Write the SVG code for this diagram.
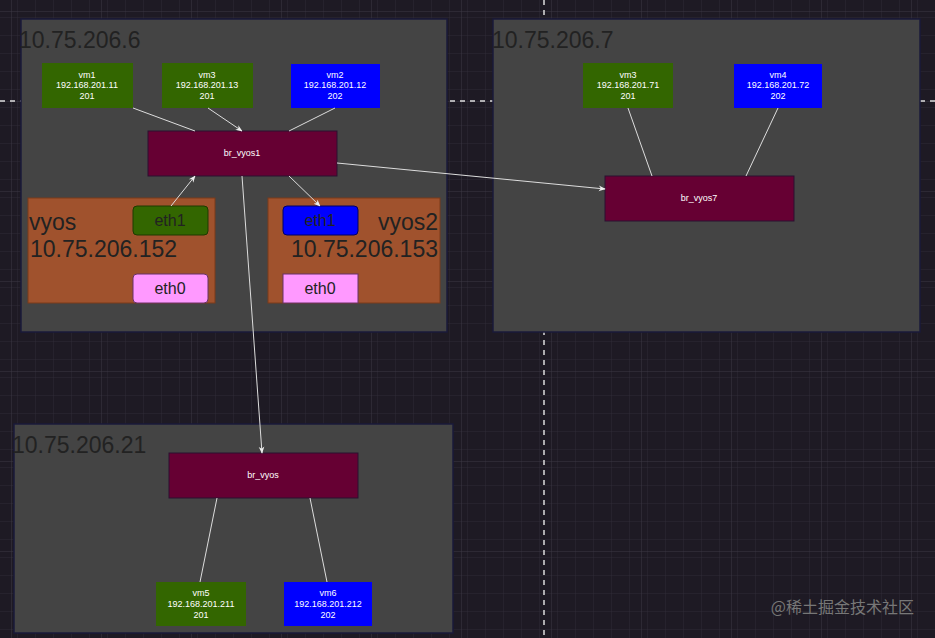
<svg xmlns="http://www.w3.org/2000/svg" width="935" height="638" viewBox="0 0 935 638">
<defs>
<pattern id="g" width="18" height="18" patternUnits="userSpaceOnUse"><path d="M18 0V18H0" fill="none" stroke="#2e2a36" stroke-width="1"/></pattern>
<pattern id="G" width="90" height="90" patternUnits="userSpaceOnUse" x="12" y="12"><path d="M90 0V90H0" fill="none" stroke="#3c3844" stroke-width="1"/></pattern>
<marker id="a" viewBox="0 0 10 10" refX="9" refY="5" markerWidth="7" markerHeight="7" orient="auto"><path d="M0 1L10 5L0 9L3 5Z" fill="#eee"/></marker>
<style>
.c{fill:#444;stroke:#1a1a3a;stroke-width:1.5}
.big{font-family:"Liberation Sans",Arial,sans-serif;font-size:23px;fill:#222}
.vm{font-family:"Liberation Sans",Arial,sans-serif;font-size:9px;fill:#fff;text-anchor:middle}
.gr{fill:#336600}.bl{fill:#0000ff}
.br{fill:#660033;stroke:#2a1030}
.vy{fill:#a0522d;stroke:#7a3a1a}
.e{font-family:"Liberation Sans",Arial,sans-serif;font-size:16px;fill:#222;text-anchor:middle}
.l{stroke:#ddd;stroke-width:1;fill:none}
</style>
</defs>
<rect width="935" height="638" fill="#1e1a24"/>
<rect width="935" height="638" fill="url(#g)"/>
<rect width="935" height="638" fill="url(#G)"/>
<path d="M0 101H935M544 0V638" stroke="#ddd" stroke-width="1.5" stroke-dasharray="5,5"/>

<g id="host6"><rect class="c" x="21" y="19" width="426" height="313"/><text class="big" x="19" y="48">10.75.206.6</text></g>
<g id="host7"><rect class="c" x="493" y="19" width="427" height="313"/><text class="big" x="492" y="48">10.75.206.7</text></g>
<g id="host21"><rect class="c" x="14" y="424" width="439" height="209"/><text class="big" x="12" y="453">10.75.206.21</text></g>

<g id="vm1"><rect class="gr" x="42" y="63" width="91" height="45"/><text class="vm" x="87" y="78">vm1</text><text class="vm" x="87" y="88">192.168.201.11</text><text class="vm" x="87" y="99">201</text></g>
<g id="vm3a"><rect class="gr" x="162" y="63" width="91" height="45"/><text class="vm" x="207" y="78">vm3</text><text class="vm" x="207" y="88">192.168.201.13</text><text class="vm" x="207" y="99">201</text></g>
<g id="vm2"><rect class="bl" x="291" y="64" width="89" height="44"/><text class="vm" x="335" y="78">vm2</text><text class="vm" x="335" y="88">192.168.201.12</text><text class="vm" x="335" y="99">202</text></g>
<g id="br_vyos1"><rect class="br" x="148" y="131" width="189" height="45"/><text class="vm" x="242" y="156">br_vyos1</text></g>

<g id="vyos"><rect class="vy" x="28" y="198" width="187" height="105"/><text class="big" x="29" y="230">vyos</text><text class="big" x="30" y="257">10.75.206.152</text>
<rect x="133" y="206" width="75" height="29" rx="4" fill="#336600" stroke="#1e3a00"/><text class="e" x="170" y="226">eth1</text>
<rect x="133" y="274" width="75" height="29" rx="4" fill="#ff99ff" stroke="#663366"/><text class="e" x="170" y="294">eth0</text></g>
<g id="vyos2"><rect class="vy" x="268" y="198" width="172" height="105"/><text class="big" x="438" y="230" text-anchor="end">vyos2</text><text class="big" x="438" y="257" text-anchor="end">10.75.206.153</text>
<rect x="283" y="206" width="75" height="29" rx="4" fill="#0000ff" stroke="#000066"/><text class="e" x="320" y="226">eth1</text>
<rect x="283" y="274" width="75" height="29" fill="#ff99ff" stroke="#663366"/><text class="e" x="320" y="294">eth0</text></g>

<g id="vm3b"><rect class="gr" x="583" y="63" width="90" height="45"/><text class="vm" x="628" y="78">vm3</text><text class="vm" x="628" y="88">192.168.201.71</text><text class="vm" x="628" y="99">201</text></g>
<g id="vm4"><rect class="bl" x="734" y="64" width="88" height="44"/><text class="vm" x="778" y="78">vm4</text><text class="vm" x="778" y="88">192.168.201.72</text><text class="vm" x="778" y="99">202</text></g>
<g id="br_vyos7"><rect class="br" x="605" y="176" width="189" height="45"/><text class="vm" x="699" y="201">br_vyos7</text></g>

<g id="br_vyos"><rect class="br" x="169" y="453" width="189" height="45"/><text class="vm" x="263" y="478">br_vyos</text></g>
<g id="vm5"><rect class="gr" x="156" y="582" width="90" height="44"/><text class="vm" x="201" y="596">vm5</text><text class="vm" x="201" y="607">192.168.201.211</text><text class="vm" x="201" y="618">201</text></g>
<g id="vm6"><rect class="bl" x="284" y="582" width="88" height="44"/><text class="vm" x="328" y="596">vm6</text><text class="vm" x="328" y="607">192.168.201.212</text><text class="vm" x="328" y="618">202</text></g>

<g id="edges">
<path class="l" d="M133 108L195 131"/>
<path class="l" d="M208 108L242 131" marker-end="url(#a)"/>
<path class="l" d="M335 108L289 131"/>
<path class="l" d="M171 206L195 176" marker-end="url(#a)"/>
<path class="l" d="M289 176L320 206" marker-end="url(#a)"/>
<path class="l" d="M242 176L262 453" marker-end="url(#a)"/>
<path class="l" d="M337 163L605 189" marker-end="url(#a)"/>
<path class="l" d="M628 108L652 176"/>
<path class="l" d="M778 108L746 176"/>
<path class="l" d="M217 498L200 582"/>
<path class="l" d="M310 498L327 582"/>
</g>
<text x="914" y="613" text-anchor="end" font-family="'Noto Sans CJK SC',sans-serif" font-size="16" fill="#777">@稀土掘金技术社区</text>
</svg>
